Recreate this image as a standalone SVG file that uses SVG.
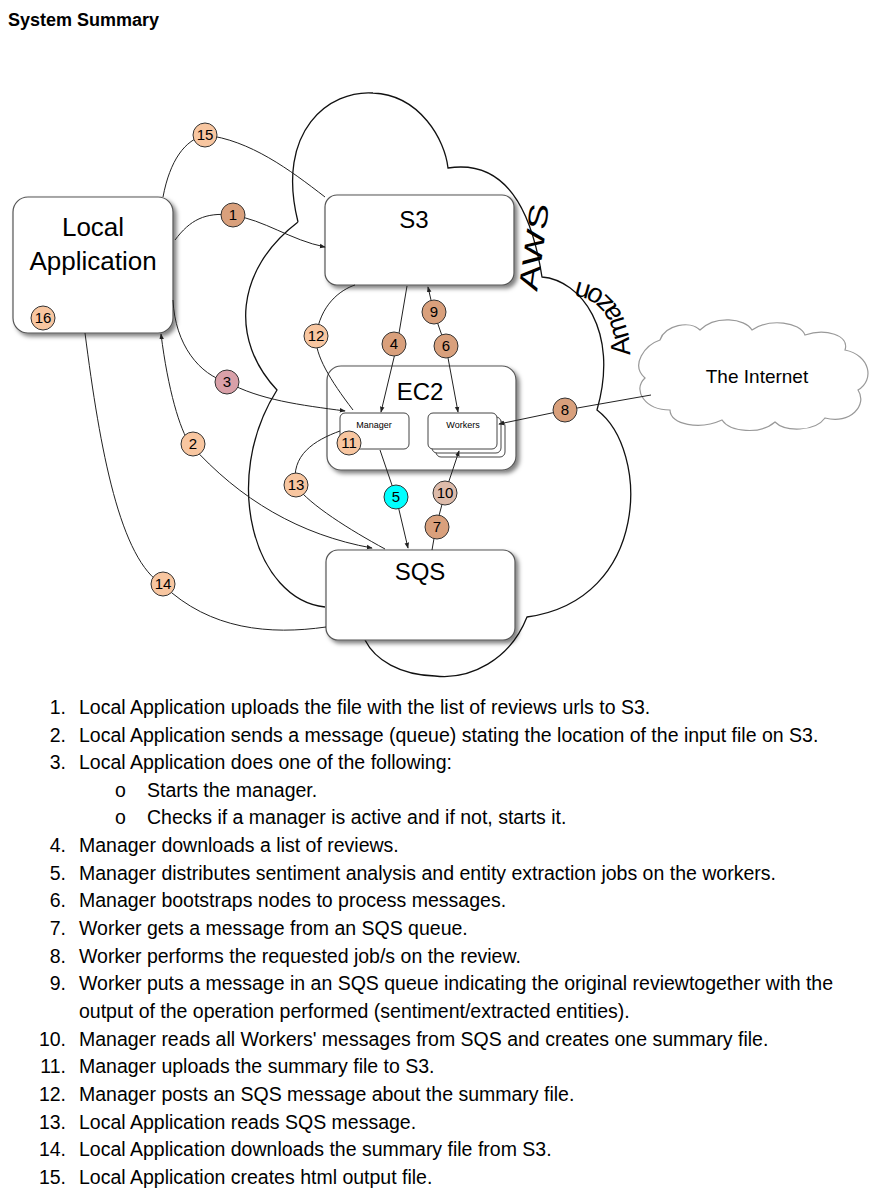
<svg xmlns="http://www.w3.org/2000/svg" width="889" height="1196" viewBox="0 0 889 1196">
<style>
text{font-family:"Liberation Sans",Arial,sans-serif;fill:#000}
.box{fill:#fff;stroke:#555;stroke-width:1.2;filter:url(#sh)}
.sub{fill:#fff;stroke:#444;stroke-width:1}
.c{fill:none;stroke:#222;stroke-width:1}
.cloud{fill:none;stroke:#111;stroke-width:1.3}
.b circle{stroke:#333;stroke-width:1}
.b text{font-size:15px;text-anchor:middle}
.d{fill:#D9A07C}.l{fill:#F8C6A0}
.li{font-size:19.5px}
.n{font-size:19.5px;text-anchor:end}
</style>
<defs>
<filter id="sh" x="-10%" y="-10%" width="130%" height="130%"><feDropShadow dx="3" dy="3" stdDeviation="2" flood-color="#000" flood-opacity="0.5"/></filter>
<marker id="a" viewBox="0 0 8 8" refX="7" refY="4" markerWidth="6" markerHeight="6" orient="auto-start-reverse"><path d="M0,1 L8,4 L0,7 z" fill="#222"/></marker>
<path id="amz" d="M630,355 C630,305 600,272 545,283" fill="none"/>
</defs>
<rect width="889" height="1196" fill="#fff"/>
<text x="8" y="26" style="font-size:18px;font-weight:bold">System Summary</text>

<g id="aws-cloud">
<path class="cloud" d="M298,222 C275,130 330,90 373,93 C420,95 445,140 448,168 C500,160 530,200 542,277 C580,280 620,330 597,410 C650,450 650,600 527,617 C510,660 470,680 435,676 C400,675 375,660 365,640 M325,607 C255,600 220,480 277,390 C230,340 235,270 298,222"/>
<text transform="translate(537,292) rotate(-82)" style="font-size:27px" textLength="88" lengthAdjust="spacingAndGlyphs">AWS</text>
<text style="font-size:27px"><textPath href="#amz">Amazon</textPath></text>
</g>

<g id="internet">
<path d="M660,340 C665,325 690,320 700,330 C715,315 745,318 752,330 C770,318 800,322 805,335 C825,328 850,335 845,350 C870,355 875,380 858,390 C868,405 850,425 825,418 C815,432 785,432 775,422 C760,435 730,432 722,420 C700,430 670,425 670,410 C645,410 632,390 645,378 C630,365 645,345 660,340 Z" fill="#fff" stroke="#999" stroke-width="1.2"/>
<text x="757" y="383" style="font-size:19px" text-anchor="middle">The Internet</text>
</g>

<g id="local-app"><rect class="box" x="13" y="197" width="160" height="136" rx="15"/>
<text x="93" y="236" style="font-size:26px" text-anchor="middle">Local</text>
<text x="93" y="270" style="font-size:26px" text-anchor="middle">Application</text></g>
<g id="s3"><rect class="box" x="325" y="195" width="189" height="90" rx="12"/><text x="414" y="228" style="font-size:24px" text-anchor="middle">S3</text></g>
<g id="ec2"><rect class="box" x="327" y="366" width="189" height="104" rx="14"/><text x="420" y="400" style="font-size:24px" text-anchor="middle">EC2</text></g>
<g id="manager"><rect class="sub" x="340" y="413" width="69" height="36" rx="5"/><text x="374" y="428" style="font-size:9px" text-anchor="middle" fill="#333">Manager</text></g>
<g id="workers">
<rect class="sub" x="436" y="421" width="69" height="36" rx="5"/>
<rect class="sub" x="432" y="417" width="69" height="36" rx="5"/>
<rect class="sub" x="428" y="413" width="69" height="36" rx="5"/><text x="463" y="428" style="font-size:9px" text-anchor="middle" fill="#333">Workers</text></g>
<g id="sqs"><rect class="box" x="326" y="550" width="189" height="90" rx="12"/><text x="420" y="580" style="font-size:24px" text-anchor="middle">SQS</text></g>

<g id="connectors">
<path class="c" d="M163,197 C170,160 185,140 205,135 C250,140 290,170 325,197"/>
<path class="c" d="M175,240 C190,220 205,212 232,215 C265,220 290,240 325,247" marker-end="url(#a)"/>
<path class="c" d="M173,300 C175,345 200,375 227,382 C260,400 300,405 345,411" marker-end="url(#a)"/>
<path class="c" d="M161,334 C168,390 180,430 190,444 C240,500 300,535 372,548" marker-start="url(#a)" marker-end="url(#a)"/>
<path class="c" d="M85,333 C100,450 120,560 163,585 C210,630 270,635 326,627"/>
<path class="c" d="M385,549 C350,530 310,505 296,486 C290,455 315,440 340,431"/>
<path class="c" d="M353,410 C330,380 315,355 316,337 C320,305 340,290 355,285"/>
<path class="c" d="M407,286 L397,345 L381,412" marker-end="url(#a)"/>
<path class="c" d="M428,287 L434,313 L446,347 L458,412" marker-start="url(#a)" marker-end="url(#a)"/>
<path class="c" d="M380,450 L396,497 L408,548" marker-end="url(#a)"/>
<path class="c" d="M459,451 L445,493 L436,527 L432,550" marker-start="url(#a)"/>
<path class="c" d="M651,395 L566,410 L499,424" marker-end="url(#a)"/>
</g>

<g class="b" id="badges">
<g id="b15"><circle class="l" cx="205" cy="135" r="12"/><text x="205" y="140">15</text></g>
<g id="b1"><circle class="d" cx="233" cy="215" r="12"/><text x="233" y="220">1</text></g>
<g id="b16"><circle class="l" cx="43" cy="318" r="12"/><text x="43" y="323">16</text></g>
<g id="b12"><circle class="l" cx="316" cy="336" r="12"/><text x="316" y="341">12</text></g>
<g id="b4"><circle class="d" cx="394" cy="344" r="12"/><text x="394" y="349">4</text></g>
<g id="b9"><circle class="d" cx="434" cy="312" r="12"/><text x="434" y="317">9</text></g>
<g id="b6"><circle class="d" cx="446" cy="346" r="12"/><text x="446" y="351">6</text></g>
<g id="b3"><circle fill="#D9A0A8" cx="227" cy="382" r="12"/><text x="227" y="387">3</text></g>
<g id="b8"><circle class="d" cx="565" cy="410" r="12"/><text x="565" y="415">8</text></g>
<g id="b11"><circle class="l" cx="349" cy="443" r="12"/><text x="349" y="448">11</text></g>
<g id="b2"><circle class="l" cx="193" cy="444" r="12"/><text x="193" y="449">2</text></g>
<g id="b13"><circle class="l" cx="296" cy="485" r="12"/><text x="296" y="490">13</text></g>
<g id="b5"><circle fill="#00FFFF" cx="396" cy="497" r="12"/><text x="396" y="502">5</text></g>
<g id="b10"><circle fill="#DDBBAA" cx="445" cy="493" r="12"/><text x="445" y="498">10</text></g>
<g id="b7"><circle class="d" cx="437" cy="527" r="12"/><text x="437" y="532">7</text></g>
<g id="b14"><circle class="l" cx="163" cy="584" r="12"/><text x="163" y="589">14</text></g>
</g>

<g id="list">
<text class="n" x="66" y="714">1.</text><text class="li" x="79" y="714">Local Application uploads the file with the list of reviews urls to S3.</text>
<text class="n" x="66" y="742">2.</text><text class="li" x="79" y="742">Local Application sends a message (queue) stating the location of the input file on S3.</text>
<text class="n" x="66" y="769">3.</text><text class="li" x="79" y="769">Local Application does one of the following:</text>
<text class="li" x="115" y="797">o</text><text class="li" x="147" y="797">Starts the manager.</text>
<text class="li" x="115" y="824">o</text><text class="li" x="147" y="824">Checks if a manager is active and if not, starts it.</text>
<text class="n" x="66" y="852">4.</text><text class="li" x="79" y="852">Manager downloads a list of reviews.</text>
<text class="n" x="66" y="880">5.</text><text class="li" x="79" y="880">Manager distributes sentiment analysis and entity extraction jobs on the workers.</text>
<text class="n" x="66" y="907">6.</text><text class="li" x="79" y="907">Manager bootstraps nodes to process messages.</text>
<text class="n" x="66" y="935">7.</text><text class="li" x="79" y="935">Worker gets a message from an SQS queue.</text>
<text class="n" x="66" y="963">8.</text><text class="li" x="79" y="963">Worker performs the requested job/s on the review.</text>
<text class="n" x="66" y="990">9.</text><text class="li" x="79" y="990">Worker puts a message in an SQS queue indicating the original reviewtogether with the</text>
<text class="li" x="79" y="1018">output of the operation performed (sentiment/extracted entities).</text>
<text class="n" x="66" y="1046">10.</text><text class="li" x="79" y="1046">Manager reads all Workers' messages from SQS and creates one summary file.</text>
<text class="n" x="66" y="1073">11.</text><text class="li" x="79" y="1073">Manager uploads the summary file to S3.</text>
<text class="n" x="66" y="1101">12.</text><text class="li" x="79" y="1101">Manager posts an SQS message about the summary file.</text>
<text class="n" x="66" y="1129">13.</text><text class="li" x="79" y="1129">Local Application reads SQS message.</text>
<text class="n" x="66" y="1156">14.</text><text class="li" x="79" y="1156">Local Application downloads the summary file from S3.</text>
<text class="n" x="66" y="1184">15.</text><text class="li" x="79" y="1184">Local Application creates html output file.</text>
</g>
</svg>
